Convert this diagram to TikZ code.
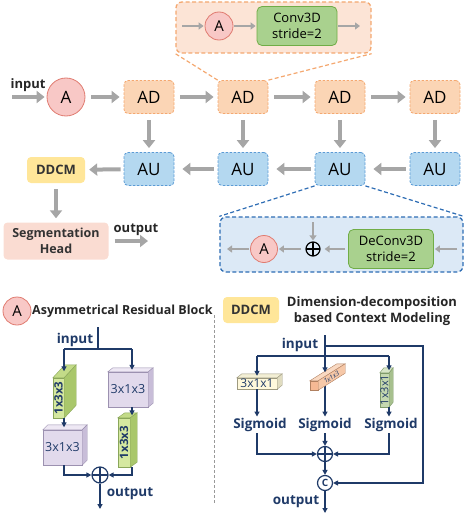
\documentclass[tikz,border=0pt]{standalone}
\usepackage{fontspec}
\setmainfont{Open Sans}
\usetikzlibrary{arrows.meta,calc,backgrounds}

\definecolor{navy}{HTML}{1F3A68}
\definecolor{arrgray}{HTML}{A6A6A6}
\definecolor{adfill}{HTML}{FBD5B5}
\definecolor{adline}{HTML}{F4A870}
\definecolor{aufill}{HTML}{B4D8F0}
\definecolor{auline}{HTML}{5B9BD5}
\definecolor{zadfill}{HTML}{FCE4D6}
\definecolor{zaufill}{HTML}{DCE9F6}
\definecolor{zauline}{HTML}{2E6DB4}
\definecolor{afill}{HTML}{F8C8C6}
\definecolor{aline}{HTML}{E07B70}
\definecolor{convfill}{HTML}{A9D18E}
\definecolor{convline}{HTML}{70AD47}
\definecolor{ddcmfill}{HTML}{FFE699}
\definecolor{segfill}{HTML}{FADCD2}
\definecolor{slabfront}{HTML}{D5E8A0}
\definecolor{slabside}{HTML}{A9C76B}
\definecolor{slabtop}{HTML}{C3DB88}
\definecolor{slabedge}{HTML}{8AA65A}
\definecolor{purfront}{HTML}{E2DAEC}
\definecolor{purside}{HTML}{C8BDD8}
\definecolor{purtop}{HTML}{EEE8F4}
\definecolor{puredge}{HTML}{9C91B0}
\definecolor{crfront}{HTML}{FFF9DC}
\definecolor{crside}{HTML}{E0DCC0}
\definecolor{crtop}{HTML}{F3EFD5}
\definecolor{credge}{HTML}{9E9A80}
\definecolor{orfront}{HTML}{F5B994}
\definecolor{orside}{HTML}{F6C8A8}
\definecolor{ortop}{HTML}{F9D9C2}
\definecolor{oredge}{HTML}{B08060}
\definecolor{grfront}{HTML}{C5D8B0}
\definecolor{grside}{HTML}{A7C08E}
\definecolor{grtop}{HTML}{D8E6C8}
\definecolor{gredge}{HTML}{7F9A6A}

% top and side faces of a block whose front face is the node #1
\newcommand{\boxfaces}[5]{%
  \filldraw[draw=#5, line width=0.4pt, fill=#3] (#1.north west) -- ++(#2) -- ($(#1.north east)+(#2)$) -- (#1.north east) -- cycle;
  \filldraw[draw=#5, line width=0.4pt, fill=#4] (#1.north east) -- ++(#2) -- ($(#1.south east)+(#2)$) -- (#1.south east) -- cycle;
  \coordinate (#1-t) at ($(#1.north)+0.5*(#2)$);
}

\begin{document}
\begin{tikzpicture}[x=1pt,y=-1pt,
  garrow/.style={draw=arrgray, line width=4pt, -{Triangle[length=8pt,width=12pt]}, shorten <=6pt, shorten >=4pt},
  sarrow/.style={draw=arrgray, line width=1.8pt, -{Triangle[length=5pt,width=7pt]}, shorten <=1pt, shorten >=1pt},
  narrow/.style={draw=navy, line width=1.3pt, -{Triangle[length=5pt,width=5pt]}},
  nline/.style={draw=navy, line width=1.3pt},
  blk/.style={rectangle, rounded corners=4pt, line width=0.8pt, dash pattern=on 2.5pt off 1.5pt, minimum width=50pt, minimum height=33pt, font=\fontsize{17}{20}\selectfont},
  adbox/.style={blk, fill=adfill, draw=adline},
  aubox/.style={blk, fill=aufill, draw=auline},
  resnode/.style={circle, draw=aline, fill=afill, line width=0.8pt, inner sep=0pt, font=\fontsize{#1}{#1}\selectfont},
  resnode/.default=17,
  convbox/.style={rectangle, rounded corners=5pt, fill=convfill, draw=convline, line width=0.8pt, minimum width=80pt, minimum height=39pt, align=center, font=\fontsize{13}{16}\selectfont},
  ddcmbox/.style={rectangle, rounded corners=4pt, fill=ddcmfill, minimum width=58pt, minimum height=26pt, font=\bfseries\fontsize{13}{15}\selectfont, text=black!80},
  segbox/.style={rectangle, rounded corners=4pt, fill=segfill, minimum width=105pt, minimum height=37pt, align=center, font=\bfseries\fontsize{12.5}{15.5}\selectfont, text=black!80},
  zoombox/.style={rectangle, rounded corners=6pt, line width=1.3pt, dash pattern=on 4pt off 2.5pt},
  lbl/.style={font=\bfseries\fontsize{13}{15}\selectfont, text=black!85, inner sep=1pt},
  nlbl/.style={font=\bfseries\fontsize{13.5}{15}\selectfont, text=navy, inner sep=1.5pt},
  oplus/.style={circle, draw=#1, minimum size=14pt, inner sep=0pt, line width=1.2pt,
    path picture={\draw[#1, line width=1.2pt] (path picture bounding box.north) -- (path picture bounding box.south) (path picture bounding box.west) -- (path picture bounding box.east);}},
  face/.style={rectangle, inner sep=0pt, line width=0.4pt, text=navy},
]
\useasboundingbox (0,0) rectangle (474,519);

% encoder / decoder
\node[lbl] (inlbl) at (28,85) {input};
\coordinate (in0) at (12,97);
\node[resnode, minimum size=38pt] (a0) at (66,97) {A};
\node[adbox] (ad1) at (149,97) {AD};
\node[adbox] (ad2) at (243,97) {AD};
\node[adbox] (ad3) at (340,97) {AD};
\node[adbox] (ad4) at (435,97) {AD};
\node[aubox] (au1) at (149,169) {AU};
\node[aubox] (au2) at (243,169) {AU};
\node[aubox] (au3) at (340,169) {AU};
\node[aubox] (au4) at (435,169) {AU};
\node[ddcmbox] (ddcm) at (56,170) {DDCM};
\node[segbox] (seg) at (56,241) {Segmentation\\Head};
\node[lbl] (outlbl) at (136,230) {output};
\coordinate (out0) at (148,241);

\draw[garrow, shorten <=0pt, shorten >=2pt] (in0) -- (a0);
\draw[garrow] (a0) -- (ad1);
\foreach \i/\j in {1/2,2/3,3/4} \draw[garrow] (ad\i) -- (ad\j);
\foreach \i in {1,...,4} \draw[garrow] (ad\i) -- (au\i);
\foreach \i/\j in {4/3,3/2,2/1} \draw[garrow, shorten <=4pt, shorten >=8pt] (au\i) -- (au\j);
\draw[garrow, shorten <=3pt, shorten >=4pt] (au1) -- (ddcm);
\draw[garrow] (ddcm) -- (seg);
\draw[garrow, shorten >=0pt] (seg) -- (out0);

% AD detail
\node[zoombox, fill=zadfill, draw=adline, minimum width=195pt, minimum height=51pt] (zad) at (273.5,27.5) {};
\coordinate (za0) at (181,26);
\node[resnode=15, minimum size=28pt] (za) at (219,26) {A};
\node[convbox] (zconv) at (297,26) {Conv3D\\stride=2};
\coordinate (za1) at (361,26);
\draw[sarrow] (za0) -- (za);
\draw[sarrow] (za) -- (zconv);
\draw[sarrow] (zconv) -- (za1);
\draw[adline, line width=1.2pt, dash pattern=on 4pt off 2.5pt] (ad2.north west) -- (zad.south west);
\draw[adline, line width=1.2pt, dash pattern=on 4pt off 2.5pt] (ad2.north east) -- (zad.south east);

% AU detail
\node[zoombox, fill=zaufill, draw=zauline, minimum width=243pt, minimum height=55pt] (zau) at (341.5,244.5) {};
\coordinate (zu0) at (458,249);
\node[convbox, minimum width=85pt] (zdec) at (391,249) {DeConv3D\\stride=2};
\node[oplus=black] (zp) at (313,249) {};
\coordinate (zpt) at (313,221);
\node[resnode=15, minimum size=27pt] (zb) at (264,249) {A};
\coordinate (zu1) at (226,249);
\draw[sarrow] (zu0) -- (zdec);
\draw[sarrow, shorten <=3pt, shorten >=4pt] (zdec) -- (zp);
\draw[sarrow] (zpt) -- (zp);
\draw[sarrow, shorten <=4pt] (zp) -- (zb);
\draw[sarrow] (zb) -- (zu1);
\draw[zauline, line width=1.2pt, dash pattern=on 4pt off 2.5pt] (au3.south west) -- (zau.north west);
\draw[zauline, line width=1.2pt, dash pattern=on 4pt off 2.5pt] (au3.south east) -- (zau.north east);

% legend
\node[resnode=15, minimum size=28pt] (lga) at (17,311) {A};
\node[lbl, anchor=west, font=\bfseries\fontsize{12.5}{14}\selectfont] (lgatxt) at (31,311) {Asymmetrical Residual Block};
\draw[black!40, line width=1pt, dash pattern=on 3pt off 2pt] (214,315) -- (214,503);
\node[ddcmbox, minimum width=56pt] (lgd) at (251,310) {DDCM};
\node[lbl, align=center, font=\bfseries\fontsize{13}{16}\selectfont] (lgdtxt) at (372,311) {Dimension-decomposition\\based Context Modeling};

% asymmetrical residual block
\node[nlbl] (rin) at (75,340) {input};
\coordinate (r0) at (98,327);
\coordinate (r1) at (98,349);
\coordinate (rl) at (64,349);
\coordinate (rr) at (132,349);
\node[face, fill=slabfront, draw=slabedge, minimum width=11pt, minimum height=40pt, font=\bfseries\fontsize{11.5}{11.5}\selectfont] (sl) at (58.5,398) {\rotatebox{90}{1x3x3}};
\boxfaces{sl}{12,-13}{slabtop}{slabside}{slabedge}
\node[face, fill=purfront, draw=puredge, minimum width=39pt, minimum height=35pt, font=\fontsize{12.5}{12.5}\selectfont] (bl) at (62.5,447.5) {3x1x3};
\boxfaces{bl}{5,-5}{purtop}{purside}{puredge}
\node[face, fill=purfront, draw=puredge, minimum width=40pt, minimum height=35pt, font=\fontsize{12.5}{12.5}\selectfont] (br) at (128,389.5) {3x1x3};
\boxfaces{br}{5,-4}{purtop}{purside}{puredge}
\node[face, fill=slabfront, draw=slabedge, minimum width=12pt, minimum height=49pt, font=\bfseries\fontsize{11.5}{11.5}\selectfont] (sr) at (124,442.5) {\rotatebox{90}{1x3x3}};
\boxfaces{sr}{7,-5}{slabtop}{slabside}{slabedge}
\node[oplus=navy, minimum size=16pt] (rp) at (100,475) {};
\coordinate (rout) at (100,509);
\node[nlbl] (routlbl) at (130,494) {output};

\draw[nline] (r0) -- (r1);
\draw[nline] (rl) -- (rr);
\draw[narrow] (rl) -- (sl-t -| rl);
\draw[narrow] (rr) -- (br-t -| rr);
\draw[narrow] (sl.south -| rl) -- (bl-t -| rl);
\draw[narrow] (br.south -| rr) -- (sr-t -| rr);
\draw[narrow] (bl.south -| rl) |- (rp);
\draw[narrow] (sr.south -| rr) |- (rp);
\draw[narrow] (rp) -- (rout);

% DDCM
\node[nlbl] (din) at (300,345) {input};
\coordinate (d0) at (325,335);
\coordinate (d1) at (325,346);
\coordinate (d2) at (325,356);
\coordinate (dl) at (257,356);
\coordinate (dr) at (389,356);
\coordinate (de) at (423,346);
\node[face, fill=crfront, draw=credge, minimum width=40pt, minimum height=11pt, font=\fontsize{12}{12}\selectfont] (dc1) at (257,383.5) {3x1x1};
\boxfaces{dc1}{5,-4}{crtop}{crside}{credge}
\node[face, fill=orfront, draw=oredge, minimum width=8pt, minimum height=9pt] (dob) at (314,385.5) {};
\boxfaces{dob}{27,-17}{ortop}{orside}{oredge}
\node[inner sep=0pt, rotate=32, text=navy, font=\itshape\fontsize{6.5}{6.5}\selectfont] (dobtxt) at (331.5,377.5) {1x1x3};
\node[face, fill=grfront, draw=gredge, minimum width=9pt, minimum height=34pt, font=\fontsize{11}{11}\selectfont] (dg) at (384.5,390) {\rotatebox{90}{1x3x1}};
\boxfaces{dg}{4,-5}{grtop}{grside}{gredge}
\node[nlbl] (sgl) at (260,425) {Sigmoid};
\node[nlbl] (sgm) at (325,425) {Sigmoid};
\node[nlbl] (sgr) at (391,425) {Sigmoid};
\node[oplus=navy, minimum size=15pt] (dp) at (325,454) {};
\node[circle, draw=navy, line width=1.2pt, minimum size=15pt, inner sep=0pt, text=navy, font=\bfseries\fontsize{10}{10}\selectfont] (dc) at (325,483) {C};
\coordinate (dout) at (325,513);
\node[nlbl] (doutlbl) at (296,502) {output};

\begin{scope}[on background layer]
\draw[narrow] (dob.center -| d0) -- (sgm);
\end{scope}
\draw[narrow] (d0) -- (dob-t -| d0);
\draw[nline] (dl) -- (dr);
\draw[narrow] (dl) -- (dc1-t -| dl);
\draw[narrow] (dr) -- (dg-t -| dr);
\draw[narrow] (d1) -- (de) |- (dc);
\draw[narrow] (dc1.south -| dl) -- (sgl.north -| dl);
\draw[narrow] (dg.south -| dr) -- (sgr.north -| dr);
\draw[narrow] (sgl.south -| dl) |- (dp);
\draw[narrow] (sgr.south -| dr) |- (dp);
\draw[narrow] (sgm) -- (dp);
\draw[narrow] (dp) -- (dc);
\draw[narrow] (dc) -- (dout);
\end{tikzpicture}
\end{document}
